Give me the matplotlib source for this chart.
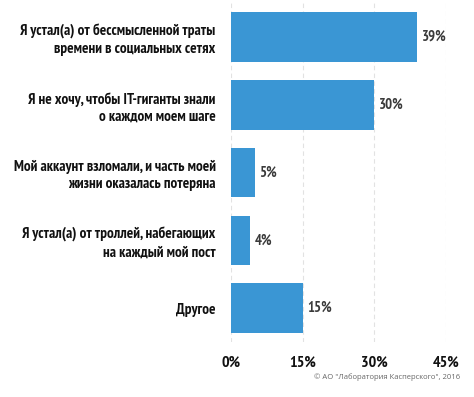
import matplotlib
matplotlib.use("Agg")
import matplotlib.pyplot as plt

# ==========================================
# DATA
# ==========================================
categories = [
    "Я устал(а) от бессмысленной траты\nвремени в социальных сетях",
    "Я не хочу, чтобы IT-гиганты знали\nо каждом моем шаге",
    "Мой аккаунт взломали, и часть моей\nжизни оказалась потеряна",
    "Я устал(а) от троллей, набегающих\nна каждый мой пост",
    "Другое",
]
values = [39, 30, 5, 4, 15]
x_ticks = [0, 15, 30, 45]
x_tick_labels = ["0%", "15%", "30%", "45%"]
credit = "© АО \"Лаборатория Касперского\", 2016"

BAR_COLOR = "#3a96d4"
plt.rcParams["font.family"] = ["PT Sans Narrow", "DejaVu Sans"]

fig = plt.figure(figsize=(4.74, 3.97), dpi=100)
ax = fig.add_axes([0.487, 0.1385, 0.454, 0.8535])

y = list(range(len(values)))
ax.barh(y, values, height=0.73, color=BAR_COLOR, zorder=2)
ax.set_ylim(len(values) - 0.5, -0.5)
ax.set_xlim(0, 45)

for yi, v in zip(y, values):
    ax.text(v + 0.9, yi, f"{v}%", va="center", ha="left", fontsize=10.5,
            fontweight="bold", color="#3a3a3a", zorder=3)

for xt in x_ticks:
    ax.axvline(xt, color="#e2e2e2", lw=0.8, ls=(0, (4, 3)), zorder=1)

ax.set_yticks(y)
ax.set_yticklabels(categories, fontsize=10.9, fontweight="bold", color="#111111",
                   linespacing=1.3)
ax.set_xticks(x_ticks)
ax.set_xticklabels(x_tick_labels, fontsize=11.5, fontweight="bold", color="#111111")
ax.tick_params(axis="y", length=0, pad=11)
ax.tick_params(axis="x", length=0, pad=10)
for s in ax.spines.values():
    s.set_visible(False)

fig.text(0.971, 0.051, credit, ha="right", va="center", fontsize=5.5, color="#666666",
         family=["Open Sans", "DejaVu Sans"])

fig.savefig("out.png", dpi=100)
